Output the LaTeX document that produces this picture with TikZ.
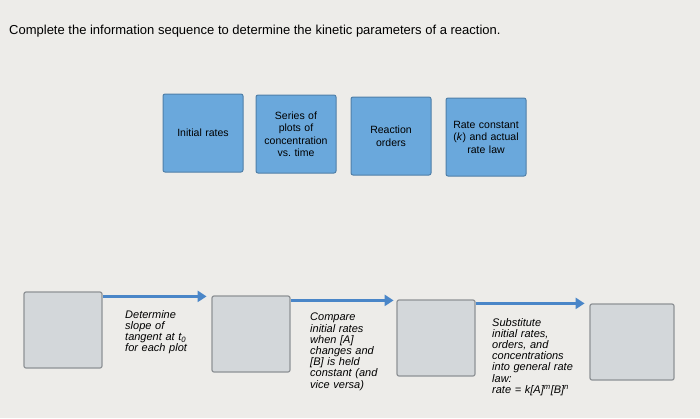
\documentclass[tikz,border=0pt]{standalone}
\usepackage{fontspec}
\setmainfont{Liberation Sans}
\usetikzlibrary{arrows.meta}
\definecolor{bg}{HTML}{EDECE9}
\definecolor{bluebox}{HTML}{6AA8DC}
\definecolor{blueedge}{HTML}{4F7FA8}
\definecolor{graybox}{HTML}{D3D7DA}
\definecolor{grayedge}{HTML}{8E9296}
\definecolor{arrowc}{HTML}{4A86C8}
\tikzset{
 bbox/.style={draw=blueedge,fill=bluebox,line width=1pt,rounded corners=2pt,minimum width=80pt,minimum height=78pt,align=center,font=\fontsize{10.5}{12.5}\selectfont,text width=76pt,inner sep=1pt},
 gbox/.style={draw=grayedge,fill=graybox,line width=1.2pt,rounded corners=2pt,minimum width=78pt,minimum height=76pt},
 flow/.style={arrowc,line width=3pt,-{Triangle[length=9pt,width=11pt]}},
 note/.style={anchor=north west,align=left,font=\itshape\fontsize{11}{11.2}\selectfont,text width=80pt,inner sep=0pt}
}
\begin{document}
\begin{tikzpicture}[x=1pt,y=-1pt]
\fill[bg] (0,0) rectangle (700,418);
\useasboundingbox (0,0) rectangle (700,418);
\node[anchor=west,inner sep=0pt,font=\fontsize{13}{15}\selectfont] (title) at (9,31) {Complete the information sequence to determine the kinetic parameters of a reaction.};
\node[bbox] (t1) at (203,133) {Initial rates};
\node[bbox] (t2) at (296,134) {Series of\\plots of\\concentration\\vs.\ time};
\node[bbox] (t3) at (391,136) {Reaction\\orders};
\node[bbox] (t4) at (486,137) {Rate constant\\(\textit{k}) and actual\\rate law};
\node[gbox] (g1) at (63,330) {};
\node[gbox] (g2) at (251,334) {};
\node[gbox] (g3) at (436,338) {};
\node[gbox,minimum width=84pt] (g4) at (632,342) {};
\draw[flow] (g1.north east) ++(0,5) coordinate (a1) -- ++(104,0) coordinate (b1);
\draw[flow] (g2.north east) ++(0,5) coordinate (a2) -- ++(103,0) coordinate (b2);
\draw[flow] (g3.north east) ++(0,4) coordinate (a3) -- ++(109,0) coordinate (b3);
\node[note] (n1) at (125,310) {Determine\\slope of\\tangent at \textit{t}\textsubscript{0}\\for each plot};
\node[note] (n2) at (310,313) {Compare\\initial rates\\when [A]\\changes and\\{}[B] is held\\constant (and\\vice versa)};
\node[note,text width=100pt] (n3) at (492,318) {Substitute\\initial rates,\\orders, and\\concentrations\\into general rate\\law:\\rate = k[A]\textsuperscript{\textit{m}}[B]\textsuperscript{\textit{n}}};
\end{tikzpicture}
\end{document}
